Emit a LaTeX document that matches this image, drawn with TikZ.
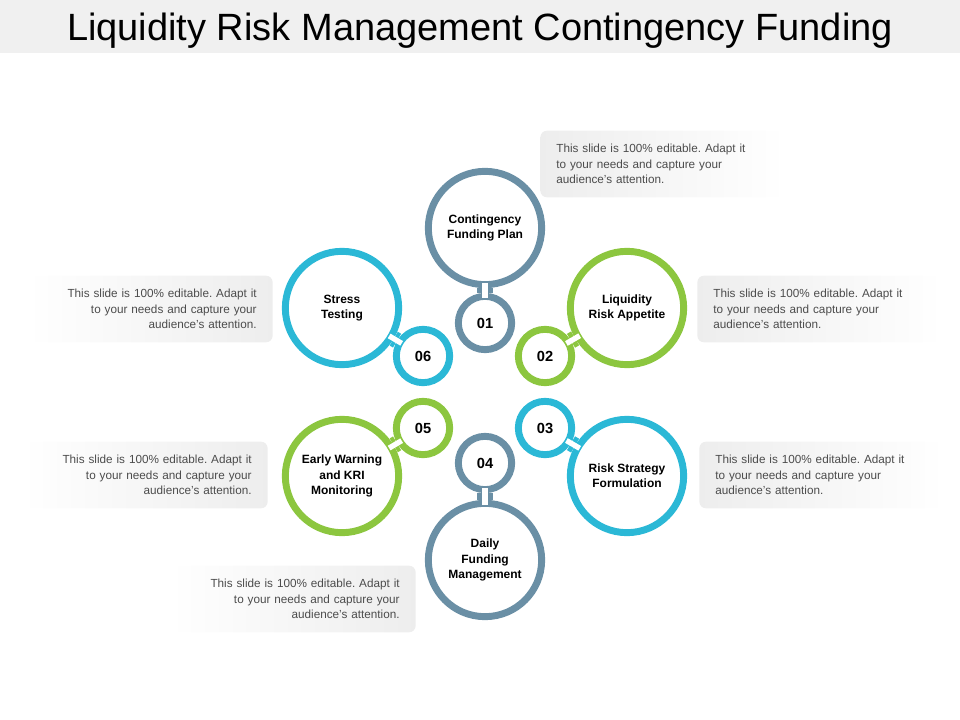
\documentclass[tikz,border=0pt]{standalone}
\usepackage{fontspec}
\setmainfont{Liberation Sans}
\usetikzlibrary{positioning,calc}
\frenchspacing
\definecolor{slate}{HTML}{6A8FA5}
\definecolor{leaf}{HTML}{8CC63F}
\definecolor{sky}{HTML}{2BB8D6}
\tikzset{
  bigring/.style={circle,draw=#1,line width=5.2pt,fill=white,minimum size=85pt,inner sep=0pt,
    align=center,font=\fontsize{9}{11.5}\selectfont\bfseries},
  smallring/.style={circle,draw=#1,line width=5.2pt,fill=white,minimum size=40pt,inner sep=0pt,
    font=\fontsize{11}{13}\selectfont\bfseries},
  notebox/.style={rounded corners=5pt,minimum width=184pt,minimum height=50pt,inner sep=0pt,
    text width=160pt,font=\fontsize{8.8}{11.8}\selectfont,text=black!70},
}
\newcommand{\NOTE}{This slide is 100\% editable. Adapt it\\to your needs and capture your\\audience's attention.}
\begin{document}
\begin{tikzpicture}[x=0.75pt,y=-0.75pt]
  \useasboundingbox (0,0) rectangle (960,720);
  % title band
  \fill[black!6] (0,0) rectangle (960,53);
  \node[font=\fontsize{28.5}{30}\selectfont] (title) at (480,31) {Liquidity Risk Management Contingency Funding};
  % notes
  \node[notebox,left color=black!7,right color=white,align=left] (n1) at (663,164) {\NOTE};
  \node[notebox,left color=black!7,right color=white,align=left] (n2) at (820,309) {\NOTE};
  \node[notebox,left color=black!7,right color=white,align=left] (n3) at (822,475) {\NOTE};
  \node[notebox,right color=black!7,left color=white,align=right] (n4) at (293,599) {\NOTE};
  \node[notebox,right color=black!7,left color=white,align=right] (n5) at (145,475) {\NOTE};
  \node[notebox,right color=black!7,left color=white,align=right] (n6) at (150,309) {\NOTE};
  % rings
  \foreach \i/\bx/\by/\sx/\sy/\col/\txt in {
      1/485/228/485/323/slate/{Contingency\\Funding Plan},
      2/627/308/545/356/leaf/{Liquidity\\Risk Appetite},
      3/627/476/545/428/sky/{Risk Strategy\\Formulation},
      4/485/560/485/463/slate/{Daily\\Funding\\Management},
      5/342/476/423/428/leaf/{Early Warning\\and KRI\\Monitoring},
      6/342/308/423/356/sky/{Stress\\Testing}}{
    \node[bigring=\col] (b\i) at (\bx,\by) {\txt};
    \node[smallring=\col] (s\i) at (\sx,\sy) {0\i};
    \draw[\col,line width=12pt] (b\i) -- (s\i);
    \draw[white,line width=4pt,shorten <=-4pt,shorten >=-4pt] (b\i) -- (s\i);
  }
\end{tikzpicture}
\end{document}
